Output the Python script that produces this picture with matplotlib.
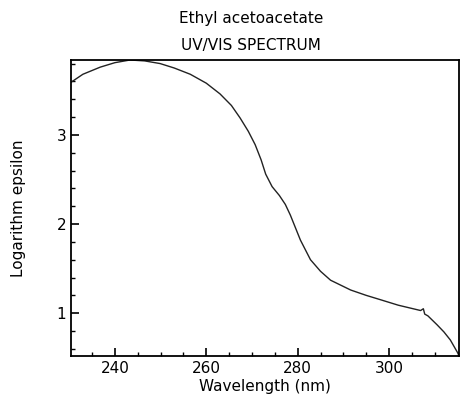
import matplotlib
matplotlib.use("Agg")
import matplotlib.pyplot as plt
from matplotlib.ticker import MultipleLocator

# spectrum
wavelength = [230.4, 233.0, 236.8, 240.0, 243.3, 246.5, 249.9, 253.0, 256.5, 260.0, 263.0,
              265.5, 267.4, 269.2, 270.7, 272.0, 273.0, 274.4, 276.0, 277.3, 278.4, 279.5,
              280.6, 282.8, 285.0, 287.2, 291.6, 295.0, 298.2, 302.0, 306.9, 307.5, 307.8,
              308.5, 310.5, 312.0, 313.4, 315.3]
log_eps = [3.59, 3.68, 3.76, 3.81, 3.84, 3.83, 3.80, 3.75, 3.68, 3.58, 3.46,
           3.33, 3.19, 3.04, 2.89, 2.72, 2.56, 2.42, 2.32, 2.22, 2.10, 1.96,
           1.82, 1.60, 1.47, 1.37, 1.26, 1.20, 1.15, 1.09, 1.03, 1.05, 0.99,
           0.97, 0.87, 0.79, 0.70, 0.53]

fig = plt.figure(figsize=(4.74, 4.16), dpi=100)
ax = fig.add_axes([71/474, 60/416, 388/474, 296/416])
ax.plot(wavelength, log_eps, color="#222222", lw=1.0)
ax.set_xlim(230.4, 315.3)
ax.set_ylim(0.52, 3.84)
ax.xaxis.set_major_locator(MultipleLocator(20))
ax.xaxis.set_minor_locator(MultipleLocator(5))
ax.yaxis.set_major_locator(MultipleLocator(1))
ax.yaxis.set_minor_locator(MultipleLocator(0.2))
ax.tick_params(which="both", direction="in", top=False, right=False, labelsize=11)
ax.tick_params(which="major", length=6, width=1.2)
ax.tick_params(which="minor", length=3, width=1.0)
for s in ax.spines.values():
    s.set_linewidth(1.3)
ax.set_xlabel("Wavelength (nm)", fontsize=11, labelpad=2)
ax.set_ylabel("Logarithm epsilon", fontsize=11, labelpad=22)
fig.text(0.53, 0.945, "Ethyl acetoacetate", ha="center", fontsize=11)
fig.text(0.53, 0.88, "UV/VIS SPECTRUM", ha="center", fontsize=11)
fig.savefig("out.png", dpi=100)
